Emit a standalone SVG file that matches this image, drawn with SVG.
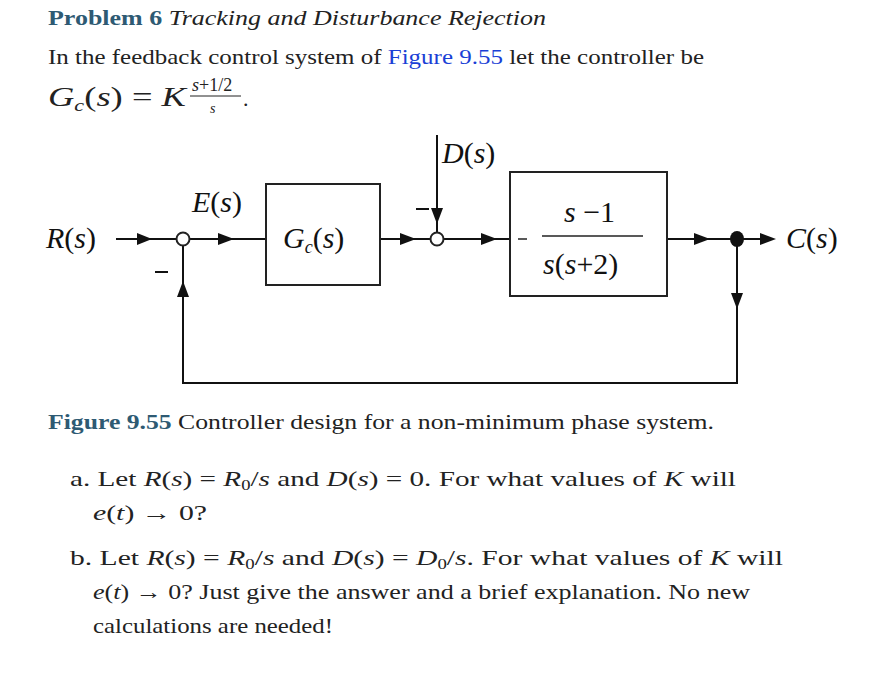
<svg xmlns="http://www.w3.org/2000/svg" width="872" height="692" viewBox="0 0 872 692">
<style>
.t{font-family:"Liberation Serif",serif;fill:#222}
.h{font-family:"Liberation Serif",serif;font-weight:bold;fill:#2e5a73}
.i{font-style:italic}
.d{font-family:"Liberation Serif",serif;font-style:italic;fill:#111}
.ln{stroke:#111;stroke-width:2;fill:none}
.bx{stroke:#222;stroke-width:2;fill:#fff}
</style>
<rect width="872" height="692" fill="#fff"/>
<text x="48" y="25" class="h" font-size="22" textLength="498" lengthAdjust="spacingAndGlyphs">Problem 6 <tspan class="i" font-weight="normal" fill="#222">Tracking and Disturbance Rejection</tspan></text>
<text x="48" y="64" class="t" font-size="22" textLength="656" lengthAdjust="spacingAndGlyphs">In the feedback control system of <tspan fill="#1a3fd6">Figure 9.55</tspan> let the controller be</text>
<text x="48" y="106" class="t i" font-size="28" textLength="138" lengthAdjust="spacingAndGlyphs">G<tspan font-size="17" dy="5">c</tspan><tspan dy="-5" font-style="normal">(</tspan>s<tspan font-style="normal">) = </tspan>K</text>
<text x="192" y="91" class="t i" font-size="18">s<tspan font-style="normal">+1/2</tspan></text>
<line x1="190" y1="96" x2="241" y2="96" stroke="#222" stroke-width="1"/>
<text x="210" y="113" class="t i" font-size="14">s</text>
<text x="243" y="106" class="t" font-size="22">.</text>
<g id="connectors">
<line class="ln" x1="116" y1="239" x2="177" y2="239"/>
<path d="M137,233 L152,239 L137,245z" fill="#111"/>
<line class="ln" x1="189" y1="239" x2="266" y2="239"/>
<path d="M218,233 L234,239 L218,245z" fill="#111"/>
<line class="ln" x1="380" y1="239" x2="431" y2="239"/>
<path d="M400,233 L416,239 L400,245z" fill="#111"/>
<line class="ln" x1="437" y1="135" x2="437" y2="233"/>
<path d="M431,208 L437,224 L443,208z" fill="#111"/>
<line class="ln" x1="443" y1="239" x2="510" y2="239"/>
<path d="M481,233 L497,239 L481,245z" fill="#111"/>
<line class="ln" x1="667" y1="239" x2="770" y2="239"/>
<path d="M694,233 L710,239 L694,245z" fill="#111"/>
<path d="M760,233 L776,239 L760,245z" fill="#111"/>
<polyline class="ln" points="737,239 737,383 183,383 183,245"/>
<path d="M731,293 L737,309 L743,293z" fill="#111"/>
<path d="M177,297 L183,281 L189,297z" fill="#111"/>
</g>
<g id="sum1"><circle cx="183" cy="239" r="6.5" class="bx"/></g>
<g id="sum2"><circle cx="437" cy="239" r="6.5" class="bx"/></g>
<g id="takeoff"><ellipse cx="737" cy="239" rx="7" ry="8" fill="#111"/></g>
<g id="gc"><rect x="266" y="184" width="114" height="101" class="bx"/><text x="283" y="248" class="d" font-size="30">G<tspan font-size="18" dy="5">c</tspan><tspan dy="-5" font-style="normal">(</tspan>s<tspan font-style="normal">)</tspan></text></g>
<g id="plant"><rect x="510" y="172" width="157" height="124" class="bx"/>
<line x1="518" y1="239" x2="527" y2="239" stroke="#222" stroke-width="1.5"/>
<line x1="542" y1="236" x2="643" y2="236" stroke="#222" stroke-width="1.5"/>
<text x="564" y="222" class="d" font-size="30">s <tspan font-style="normal">−1</tspan></text>
<text x="543" y="274" class="d" font-size="30">s<tspan font-style="normal">(</tspan>s<tspan font-style="normal">+2)</tspan></text></g>
<g id="labels">
<text x="46" y="248" class="d" font-size="30">R<tspan font-style="normal">(</tspan>s<tspan font-style="normal">)</tspan></text>
<text x="192" y="212" class="d" font-size="30">E<tspan font-style="normal">(</tspan>s<tspan font-style="normal">)</tspan></text>
<text x="442" y="163" class="d" font-size="30">D<tspan font-style="normal">(</tspan>s<tspan font-style="normal">)</tspan></text>
<text x="786" y="248" class="d" font-size="30">C<tspan font-style="normal">(</tspan>s<tspan font-style="normal">)</tspan></text>
<line x1="155" y1="272" x2="168" y2="272" stroke="#111" stroke-width="2"/>
<line x1="416" y1="209" x2="429" y2="209" stroke="#111" stroke-width="2"/>
</g>
<text x="48" y="429" class="h" font-size="22" textLength="666" lengthAdjust="spacingAndGlyphs">Figure 9.55 <tspan font-weight="normal" fill="#222">Controller design for a non-minimum phase system.</tspan></text>
<text x="70" y="486" class="t" font-size="22" textLength="666" lengthAdjust="spacingAndGlyphs">a. Let <tspan class="i">R</tspan>(<tspan class="i">s</tspan>) = <tspan class="i">R</tspan><tspan font-size="14" dy="4">0</tspan><tspan dy="-4">/</tspan><tspan class="i">s</tspan> and <tspan class="i">D</tspan>(<tspan class="i">s</tspan>) = 0.  For what values of <tspan class="i">K</tspan>  will</text>
<text x="93" y="520" class="t" font-size="22" textLength="114" lengthAdjust="spacingAndGlyphs"><tspan class="i">e</tspan>(<tspan class="i">t</tspan>) → 0?</text>
<text x="70" y="565" class="t" font-size="22" textLength="713" lengthAdjust="spacingAndGlyphs">b. Let <tspan class="i">R</tspan>(<tspan class="i">s</tspan>) = <tspan class="i">R</tspan><tspan font-size="14" dy="4">0</tspan><tspan dy="-4">/</tspan><tspan class="i">s</tspan> and <tspan class="i">D</tspan>(<tspan class="i">s</tspan>) = <tspan class="i">D</tspan><tspan font-size="14" dy="4">0</tspan><tspan dy="-4">/</tspan><tspan class="i">s</tspan>.  For what values of <tspan class="i">K</tspan>  will</text>
<text x="93" y="599" class="t" font-size="22" textLength="657" lengthAdjust="spacingAndGlyphs"><tspan class="i">e</tspan>(<tspan class="i">t</tspan>) → 0? Just give the answer and a brief explanation. No new</text>
<text x="93" y="633" class="t" font-size="22" textLength="240" lengthAdjust="spacingAndGlyphs">calculations are needed!</text>
</svg>
